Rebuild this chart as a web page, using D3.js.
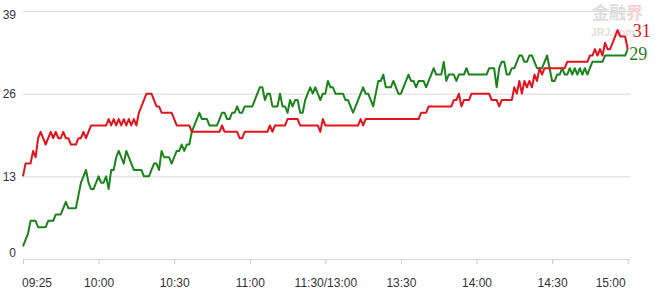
<!DOCTYPE html>
<html><head><meta charset="utf-8">
<script src="https://cdn.jsdelivr.net/npm/d3@7"></script>
<style>body{margin:0;background:#fff;} svg{display:block}</style>
</head><body><svg id="c" width="665" height="294"></svg>
<script>
const timeLabels = ["09:25","10:00","10:30","11:00","11:30/13:00","13:30","14:00","14:30","15:00"];
const yTickValues = [0, 13, 26, 39];
const redValues = [
13,15,15,15,17,16,19,20,19,18,
19,20,19,20,19,19,20,19,19,18,
18,18,19,19,20,19,20,21,21,21,
21,21,21,21,22,21,22,21,22,21,
22,21,22,21,22,21,23,24,25,26,
26,26,25,24,24,23,23,23,23,23,
22,21,21,21,21,21,21,20,20,20,
20,20,20,20,20,20,20,20,20,21,
20,20,20,20,20,20,19,19,20,20,
20,20,20,20,20,20,20,20,21,20,
21,21,21,21,21,22,22,22,22,22,
21,21,21,21,21,21,21,21,20,22,
21,21,21,21,21,21,21,21,21,21,
21,21,21,21,22,21,22,22,22,22,
22,22,22,22,22,22,22,22,22,22,
22,22,22,22,22,22,22,22,23,23,
23,24,24,24,24,24,24,24,24,24,
24,25,25,26,24,25,25,25,26,26,
26,26,26,26,26,26,25,25,25,24,
25,25,25,25,25,27,26,28,26,28,
27,28,27,29,28,30,29,30,30,30,
30,30,30,30,30,30,31,31,31,31,
31,31,31,31,31,32,32,33,32,33,
32,34,33,33,34,35,36,35,35,35,33];
const greenValues = [
2,3,4,6,6,6,5,5,5,5,
6,6,6,7,7,7,8,9,8,8,
8,8,10,12,13,14,12,11,11,12,
13,12,12,13,11,14,14,16,17,16,
15,17,16,15,14,14,14,14,13,13,
13,14,15,15,14,17,16,16,16,15,
16,17,17,18,17,18,18,20,21,22,
23,22,22,22,21,21,21,21,22,23,
23,22,22,23,23,24,23,23,24,24,
24,24,25,26,27,27,25,26,26,24,
24,24,26,24,24,23,25,24,25,25,
23,23,25,26,27,26,27,26,25,26,
26,28,27,27,26,26,26,26,25,25,
24,23,24,25,26,27,26,26,25,24,
26,28,28,29,27,27,27,28,27,26,
26,27,28,29,28,28,27,28,28,28,
27,28,29,30,29,29,29,31,28,29,
29,29,28,29,29,29,30,29,29,29,
29,29,29,29,29,30,30,30,27,30,
31,31,29,29,30,30,31,32,32,31,
31,32,32,31,30,30,30,31,32,30,
28,28,29,29,30,29,29,30,29,30,
29,30,29,30,29,30,31,31,31,31,
31,32,32,32,32,32,32,32,32,32,33];
const endLabels = ["31", "29"];
const seriesColors = ["#e3121b", "#1a841a"];

const svg = d3.select("#c");
const left = 23, right = 627.7, gridRight = 630;
const x = d3.scaleLinear().domain([0, redValues.length - 1]).range([left, right]);
const y = d3.scaleLinear().domain([0, 39]).range([259, 11]);

// watermark
const wm = svg.append("g").attr("font-weight", "bold");
const wmText = wm.append("text").attr("x", 592).attr("y", 19).attr("font-family", "Noto Sans CJK SC")
  .attr("font-size", 17);
wmText.append("tspan").attr("fill", "#dedede").text("金融");
wmText.append("tspan").attr("fill", "#f2d2d2").text("界");
wm.append("text").attr("x", 591).attr("y", 36).attr("font-family", "Liberation Sans, Arial, sans-serif")
  .attr("font-size", 10.5).attr("fill", "#e6dcdc").text("JRJ.com");

// y axis with gridlines
const yAxis = svg.append("g").attr("transform", `translate(${left},0)`)
  .call(d3.axisLeft(y).tickValues(yTickValues).tickSize(-(gridRight - left)).tickPadding(7));
yAxis.select(".domain").remove();
yAxis.selectAll(".tick line").attr("stroke", "#d9d9d9");
yAxis.selectAll(".tick text")
  .attr("font-family", "Liberation Sans, Arial, sans-serif").attr("font-size", 12).attr("fill", "#333")
  .attr("y", d => Math.min(Math.max(y(d), 14.7), 252.7) - y(d));

// x axis
const xAxis = svg.append("g").attr("transform", `translate(0,${y(0)})`)
  .call(d3.axisBottom(x).tickValues(d3.range(0, redValues.length, 30))
    .tickFormat((d, i) => timeLabels[i]).tickSize(5).tickPadding(14));
xAxis.select(".domain").remove();
xAxis.selectAll(".tick line").attr("stroke", "#cccccc");
const nT = timeLabels.length;
xAxis.selectAll(".tick text")
  .attr("font-family", "Liberation Sans, Arial, sans-serif").attr("font-size", 12).attr("fill", "#333")
  .attr("text-anchor", (d, i) => i === 0 ? "start" : (i === nT - 1 ? "end" : "middle"))
  .attr("x", (d, i) => i === 0 ? -1.5 : (i === nT - 1 ? -2.5 : 0));

// lines
const line = d3.line().x((d, i) => x(i)).y(d => y(d));
const series = [greenValues, redValues];
const cols = [seriesColors[1], seriesColors[0]];
series.forEach((s, k) => {
  svg.append("path").datum(s).attr("d", line).attr("fill", "none")
    .attr("stroke", cols[k]).attr("stroke-width", 2).attr("stroke-linejoin", "round");
});

// end labels
const last = redValues.length - 1;
svg.append("text").attr("x", x(last) + 5).attr("y", y(redValues[last]) - 12.5)
  .attr("font-family", "Liberation Serif, Times New Roman, serif").attr("font-size", 18)
  .attr("fill", seriesColors[0]).text(endLabels[0]);
svg.append("text").attr("x", x(last) + 1.5).attr("y", y(greenValues[last]) + 11)
  .attr("font-family", "Liberation Serif, Times New Roman, serif").attr("font-size", 18)
  .attr("fill", seriesColors[1]).text(endLabels[1]);
</script>
</body></html>
